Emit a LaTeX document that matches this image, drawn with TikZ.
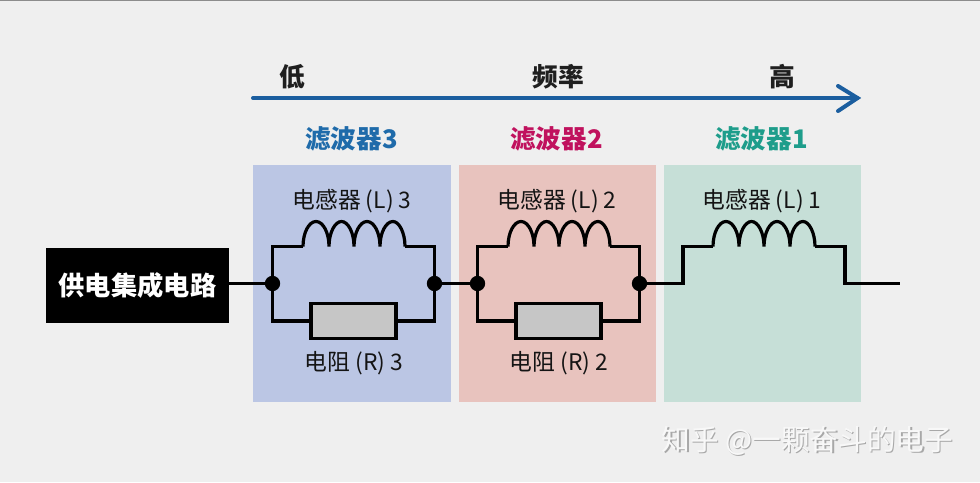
\documentclass[tikz,border=0pt]{standalone}
\usepackage{fontspec}
\setmainfont{Noto Sans CJK SC}
\definecolor{bgc}{HTML}{EFEFEF}
\definecolor{arrowc}{HTML}{1B5E9F}
\definecolor{fa}{HTML}{BBC6E4}
\definecolor{fb}{HTML}{E8C3BE}
\definecolor{fc}{HTML}{C6DFD7}
\definecolor{ta}{HTML}{1F6BAA}
\definecolor{tb}{HTML}{C0125E}
\definecolor{tc}{HTML}{1E9D8B}
\definecolor{resc}{HTML}{C6C6C6}
\definecolor{wmc}{HTML}{F8F8F8}
\definecolor{wms}{HTML}{A8A8A8}
\tikzset{
  x=0.75pt,y=-0.75pt,
  panel/.style={draw=none,minimum width=#1*0.75pt,minimum height=237*0.75pt,inner sep=0pt},
  wire/.style={line width=2.5pt,black,line join=miter},
  dotnode/.style={circle,fill=black,inner sep=0pt,minimum size=11.5pt},
  resbox/.style={draw=black,line width=2.5pt,fill=resc,minimum width=85*0.75pt,minimum height=35*0.75pt,inner sep=0pt},
  title/.style={font=\fontsize{19.2}{22}\selectfont\bfseries,inner sep=0pt},
  lab/.style={font=\fontsize{17.1}{20}\selectfont,text=black!92,inner sep=0pt},
  freq/.style={font=\fontsize{19.3}{22}\selectfont\bfseries,text=black!88,inner sep=0pt},
  coil/.pic={
    \draw[line width=2.4pt,black,line cap=butt] (0,0) .. controls (0,-14) and (6,-25) .. (13,-25)
      .. controls (20,-25) and (26,-14) .. (26,0)
      .. controls (26,-14) and (32,-25) .. (38.5,-25)
      .. controls (45,-25) and (51,-14) .. (51,0)
      .. controls (51,-14) and (57,-25) .. (64,-25)
      .. controls (71,-25) and (77,-14) .. (77,0)
      .. controls (77,-14) and (83,-25) .. (90,-25)
      .. controls (96,-25) and (102,-14) .. (102,0);
  }
}
\begin{document}
\begin{tikzpicture}
\useasboundingbox (0,0) rectangle (980,482);
\fill[bgc] (0,0) rectangle (980,482);
\fill[black!45] (0,0) rectangle (980,1);

% frequency arrow
\coordinate (arrowL) at (253,98);
\coordinate (arrowR) at (857.5,98);
\coordinate (arrowU) at (838,86);
\coordinate (arrowD) at (838,111);
\draw[arrowc,line width=3pt,line cap=round] (arrowL) -- (arrowR);
\draw[arrowc,line width=3pt,line cap=round,line join=miter] (arrowU) -- (arrowR) -- (arrowD);
\node[freq] (low) at (292,77) {低};
\node[freq] (mid) at (558,77) {频率};
\node[freq] (high) at (782,77) {高};

% panels
\node[panel=198,fill=fa] (p3) at (352,283.5) {};
\node[panel=197,fill=fb] (p2) at (557.5,283.5) {};
\node[panel=197,fill=fc] (p1) at (762.5,283.5) {};

% titles
\node[title,text=ta] (t3) at (351.5,139) {滤波器3};
\node[title,text=tb] (t2) at (556.5,139) {滤波器2};
\node[title,text=tc] (t1) at (761.5,139) {滤波器1};

% labels
\node[lab] (l3) at (352,201.5) {电感器 (L) 3};
\node[lab] (l2) at (557,201.5) {电感器 (L) 2};
\node[lab] (l1) at (762,201.5) {电感器 (L) 1};
\node[lab] (r3) at (354,363.5) {电阻 (R) 3};
\node[lab] (r2) at (559,363.5) {电阻 (R) 2};

% source
\node[fill=black,text=white,minimum width=183*0.75pt,minimum height=75*0.75pt,inner sep=0pt,font=\fontsize{19.7}{22}\selectfont\bfseries] (src) at (137.5,285.5) {供电集成电路};

% coordinates
\coordinate (c3a) at (303,246.5); \coordinate (c3b) at (405,246.5);
\coordinate (c2a) at (508,246.5); \coordinate (c2b) at (610,246.5);
\coordinate (c1a) at (713,246.5); \coordinate (c1b) at (815,246.5);
\coordinate (end) at (900,283.5);

% resistors
\node[resbox] (res3) at (353.5,321) {};
\node[resbox] (res2) at (558.5,321) {};

% junctions
\node[dotnode] (j1) at (272.5,283.5) {};
\node[dotnode] (j2) at (434.5,283.5) {};
\node[dotnode] (j3) at (477.5,283.5) {};
\node[dotnode] (j4) at (639.5,283.5) {};

% wiring
\draw[wire] (src.east |- j1) -- (j1);
\draw[wire] (j2) -- (j3);
\draw[wire] (c3a) -| (j1);
\draw[wire] (c3b) -| (j2);
\draw[wire] (res3.west) -| (j1);
\draw[wire] (res3.east) -| (j2);
\draw[wire] (c2a) -| (j3);
\draw[wire] (c2b) -| (j4);
\draw[wire] (res2.west) -| (j3);
\draw[wire] (res2.east) -| (j4);
\draw[wire] (j4) -- (683,283.5) -- (683,246.5) -- (c1a);
\draw[wire] (c1b) -- (845,246.5) -- (845,283.5) -- (end);
\pic at (c3a) {coil};
\pic at (c2a) {coil};
\pic at (c1a) {coil};

% watermark
\node[inner sep=0pt,anchor=west,text=wms,font=\fontsize{21.5}{25}\selectfont] (wms) at (662.8,442.2) {知乎 @一颗奋斗的电子};
\node[inner sep=0pt,anchor=west,text=wmc,font=\fontsize{21.5}{25}\selectfont] (wm) at (661.5,441) {知乎 @一颗奋斗的电子};
\end{tikzpicture}
\end{document}
